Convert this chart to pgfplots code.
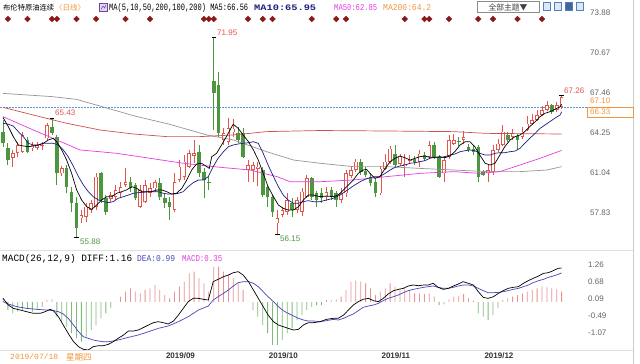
\documentclass[border=0pt]{standalone}
\usepackage{pgfplots}
\pgfplotsset{compat=1.18}
\usepackage{pgfplotstable}
\usepackage{fontspec}
\setmainfont{Liberation Sans}
\newfontfamily\cjk{Noto Sans CJK SC}
\newfontfamily\mono{Liberation Mono}
\definecolor{cred}{RGB}{226,86,78}
\definecolor{cgreen}{RGB}{76,150,64}
\definecolor{hred}{RGB}{234,146,146}
\definecolor{hgreen}{RGB}{128,186,122}
\definecolor{ma10}{RGB}{30,30,130}
\definecolor{ma50}{RGB}{230,60,230}
\definecolor{ma100}{RGB}{150,150,150}
\definecolor{ma200}{RGB}{210,80,80}
\definecolor{dashc}{RGB}{90,150,220}
\definecolor{tickc}{RGB}{100,100,100}
\definecolor{orng}{RGB}{240,150,60}
\definecolor{diam}{RGB}{140,25,25}
\definecolor{deac}{RGB}{70,70,190}
\definecolor{macdc}{RGB}{225,60,225}
\definecolor{iconb}{RGB}{80,128,192}
\definecolor{iconf}{RGB}{221,232,246}
\definecolor{purp}{RGB}{110,70,160}
\definecolor{purpf}{RGB}{225,215,245}

\pgfplotstableread{
i o h l c
2 62.22 62.90 61.55 62.62
3 62.62 63.56 62.35 63.29
4 62.75 64.36 62.62 64.09
6 63.02 63.50 62.80 63.29
7 63.05 63.55 62.85 63.30
8 63.20 63.50 62.90 63.22
9 63.82 65.03 63.69 64.89
12 61.01 61.60 60.80 61.41
16 57.40 58.07 57.00 57.67
17 57.54 58.60 57.13 58.34
18 58.07 58.90 57.80 58.61
19 58.34 61.01 58.07 60.75
22 58.98 59.50 58.70 59.27
23 59.14 60.08 58.87 59.68
24 59.41 60.34 59.00 59.94
25 60.08 61.41 59.94 60.34
28 58.34 60.08 58.20 59.68
29 58.74 60.48 58.60 60.08
30 59.41 60.21 59.14 59.81
31 59.81 60.48 59.54 60.34
35 58.07 61.01 57.93 60.34
36 60.48 62.08 60.34 61.55
37 60.75 62.48 60.48 61.95
38 61.55 62.89 61.41 62.62
39 62.40 63.69 61.82 62.62
45 63.69 64.62 63.29 64.22
46 63.55 65.43 63.29 64.62
47 64.30 65.40 63.90 64.60
50 61.28 62.08 60.34 61.68
51 61.30 61.95 60.35 61.70
52 61.35 61.95 60.00 61.55
56 57.00 58.07 56.15 57.40
57 57.67 58.34 57.54 58.07
58 57.93 59.41 57.67 58.87
60 58.07 59.14 57.80 58.87
61 57.93 59.80 57.60 59.54
62 59.14 60.88 59.00 60.61
66 59.10 59.90 58.80 59.50
69 58.90 59.80 58.60 59.40
70 59.40 61.30 59.10 61.00
71 60.80 61.50 60.60 61.30
72 61.30 62.20 61.10 61.95
77 59.40 61.60 59.30 61.40
78 61.40 62.60 61.30 61.95
79 61.95 63.20 61.80 63.00
81 61.80 62.60 61.60 62.35
82 61.60 62.60 60.75 61.75
83 62.00 62.50 61.80 62.20
85 61.95 62.90 61.50 62.60
87 62.35 63.60 62.20 63.30
90 61.00 62.40 60.30 62.10
91 62.35 64.10 62.20 63.70
92 63.40 64.20 63.30 63.70
94 63.70 64.40 63.40 63.95
99 61.00 61.80 60.35 61.30
100 61.15 63.30 60.90 62.90
101 62.90 63.80 62.70 63.40
102 63.30 64.90 63.20 64.36
104 63.95 64.60 63.70 64.20
106 63.95 64.70 63.80 64.36
107 64.50 65.60 64.40 65.00
108 65.00 65.80 64.90 65.30
109 65.30 66.10 65.20 65.70
110 65.70 66.40 65.60 66.10
111 66.10 66.80 66.00 66.50
113 66.10 66.70 65.90 66.50
114 66.33 67.26 66.20 67.10
}\upc

\pgfplotstableread{
i o h l c
0 64.36 65.29 63.15 63.42
1 63.02 63.42 61.68 62.08
5 63.69 63.96 62.62 62.75
10 64.76 65.43 64.09 64.22
11 63.96 64.09 60.08 61.01
13 61.41 61.68 59.41 59.94
14 59.54 59.94 57.93 58.61
15 58.61 59.14 55.88 56.60
20 61.01 61.15 58.61 58.87
21 59.00 59.27 57.67 57.93
26 60.34 60.75 59.54 59.81
27 60.08 60.21 58.87 59.00
32 60.21 60.61 58.87 59.14
33 59.00 59.41 58.20 58.61
34 58.74 59.14 57.27 58.34
40 62.75 63.29 60.75 61.01
41 61.15 61.41 59.00 60.48
42 60.34 60.75 59.68 60.21
43 68.40 71.95 64.50 67.50
44 68.10 69.17 63.96 64.22
48 64.22 64.76 63.42 63.69
49 64.22 64.62 62.22 62.35
53 61.28 61.55 59.14 59.27
54 59.94 60.08 58.34 59.14
55 59.14 59.27 57.54 57.93
59 58.61 59.00 57.54 58.07
63 60.61 60.75 58.87 59.14
64 59.41 59.60 58.30 58.87
65 59.40 59.80 58.60 59.00
67 59.70 59.90 58.90 59.10
68 59.40 59.60 58.30 58.90
73 61.95 62.20 60.90 61.15
74 61.20 61.50 60.70 60.90
75 60.75 61.00 60.00 60.20
76 60.30 60.60 59.10 59.40
80 62.60 63.30 61.50 61.70
84 62.20 62.40 61.70 61.95
86 62.50 62.70 62.00 62.20
88 63.30 63.50 62.20 62.35
89 62.35 62.50 60.60 60.75
93 63.60 63.90 63.20 63.50
95 63.10 63.40 62.70 62.90
96 63.00 63.30 62.50 62.75
97 63.15 63.30 60.35 60.75
98 61.15 61.30 60.80 60.90
103 64.10 64.30 63.50 63.70
105 64.00 64.20 62.90 63.70
112 66.50 66.60 65.80 65.96
}\downc

\begin{document}
\begin{tikzpicture}
\useasboundingbox (0,0) rectangle (640pt,364pt);
\fill[white] (0,0) rectangle (640pt,364pt);

% ---------------- price panel ----------------
\begin{axis}[
  at={(0pt,114pt)}, anchor=south west,
  x=4.9pt, y=12.46pt,
  xmin=-0.612, xmax=128.57, ymin=54.86, ymax=74.92,
  axis line style={draw=none}, tick style={draw=none},
  xtick=\empty,
  ytick={57.83,61.04,64.25,67.46,70.67,73.88},
  yticklabels={57.83,61.04,64.25,67.46,70.67,73.88},
  yticklabel pos=right,
  yticklabel style={anchor=west, xshift=-43pt, inner sep=0pt,
    font=\fontsize{8}{9}\selectfont, text=tickc},
  clip=false,
]
% last price dashed line
\addplot[dashc, line width=0.6pt, dash pattern=on 1.5pt off 1.5pt] coordinates {(-0.612,66.33) (128.57,66.33)};

% wicks
\addplot[draw=none, mark=none, error bars/.cd, y dir=plus, y explicit, error mark=none,
  error bar style={draw=cred, line width=0.8pt}]
  table[x=i, y=l, y error plus expr=\thisrow{h}-\thisrow{l}] {\upc};
\addplot[draw=none, mark=none, error bars/.cd, y dir=plus, y explicit, error mark=none,
  error bar style={draw=cgreen, line width=0.8pt}]
  table[x=i, y=l, y error plus expr=\thisrow{h}-\thisrow{l}] {\downc};
% bodies
\addplot[draw=none, mark=none, error bars/.cd, y dir=plus, y explicit, error mark=none,
  error bar style={draw=cred, line width=3.6pt}]
  table[x=i, y=o, y error plus expr={max(\thisrow{c}-\thisrow{o},0.06)}] {\upc};
\addplot[draw=none, mark=none, error bars/.cd, y dir=plus, y explicit, error mark=none,
  error bar style={draw=white, line width=2.0pt}]
  table[x=i, y expr=\thisrow{o}+0.065, y error plus expr={max(\thisrow{c}-\thisrow{o}-0.13,0)}] {\upc};
\addplot[draw=none, mark=none, error bars/.cd, y dir=plus, y explicit, error mark=none,
  error bar style={draw=cgreen, line width=3.6pt}]
  table[x=i, y=c, y error plus expr={max(\thisrow{o}-\thisrow{c},0.06)}] {\downc};

% MA100 (gray)
\addplot[ma100, line width=0.7pt, mark=none] coordinates {
(0,67.43) (10,67.17) (15,66.95) (20.7,66.31) (27,65.60) (34,64.95) (41.6,64.09) (47,63.69)
(53.8,62.75) (59.3,62.08) (64.7,61.82) (71.5,61.55) (78.3,61.55) (85.1,61.41) (91.9,61.28)
(98.7,61.15) (105.5,61.15) (111,61.28) (114,61.55)};
% MA200 (red)
\addplot[ma200, line width=0.7pt, mark=none] coordinates {
(0,66.31) (6.2,65.69) (13,65.03) (19.8,64.49) (26.6,64.17) (33.4,63.96) (40.2,63.96) (47,64.09)
(53.8,64.36) (64.7,64.45) (78.3,64.41) (91.9,64.36) (98.7,64.22) (114,64.17)};
% MA50 (magenta)
\addplot[ma50, line width=0.7pt, mark=none] coordinates {
(0,65.56) (6.2,64.49) (11,63.69) (15.7,62.89) (23.2,62.62) (30,62.22) (36.8,61.82) (42.9,61.55)
(50.4,61.28) (55.9,60.75) (58.6,60.34) (64.7,60.34) (71.5,60.48) (78.3,60.75) (85.1,61.01)
(91.9,61.15) (97.3,61.01) (101.4,61.15) (105.5,61.68) (109.6,62.22) (114,62.85)};
% MA10 (navy)
\addplot[ma10, line width=0.7pt, mark=none] coordinates {
(0,65.03) (1.09,64.95) (2.1,64.81) (3.13,64.36) (4.15,63.96) (5.17,63.42) (6.19,63.29) (7.21,63.29)
(8.23,63.42) (9.25,63.42) (10.27,63.42) (11.3,63.29) (12.3,62.89) (13.3,62.35) (14.4,61.55)
(15.4,60.75) (16.4,60.08) (17.4,59.54) (18.4,59.14) (19.5,58.87) (20.5,58.74) (21.5,58.66)
(22.5,58.74) (23.5,59.01) (24.6,59.14) (25.6,59.27) (26.6,59.41) (27.6,59.46) (28.6,59.49)
(29.7,59.54) (30.7,59.54) (31.7,59.54) (32.7,59.41) (33.7,59.35) (34.8,59.35) (35.8,59.41)
(36.8,59.54) (37.8,59.94) (38.8,60.26) (39.9,60.48) (40.9,60.48) (41.9,60.75) (42.9,61.55)
(43.9,62.22) (45.0,62.75) (46.0,63.15) (47.0,63.29) (48.0,63.37) (49.0,63.42) (50.1,63.47)
(51.1,63.55) (52.1,63.42) (53.1,62.62) (54.1,61.68) (55.2,60.75) (56.2,59.94) (57.2,59.27)
(58.2,58.87) (59.3,58.61) (60.3,58.61) (61.3,58.74) (62.3,58.82) (63.3,58.74) (64.7,58.74)
(66.0,58.87) (67.4,59.01) (68.8,59.27) (69.8,59.54) (70.8,59.81) (71.8,60.08) (72.9,60.34)
(73.9,60.53) (74.9,60.67) (75.9,60.75) (76.9,60.75) (78.0,61.01) (79.0,61.28) (80.0,61.49)
(81.0,61.60) (82.0,61.68) (83.1,61.82) (84.1,61.87) (85.1,61.95) (86.1,62.03) (87.1,62.22)
(88.2,62.30) (89.2,62.27) (90.2,62.35) (91.2,62.48) (92.2,62.56) (93.3,62.75) (94.3,62.83)
(95.3,62.89) (96.3,62.83) (97.3,62.62) (98.4,62.48) (99.4,62.48) (100.4,62.62) (101.4,62.67)
(102.4,62.67) (103.5,62.75) (104.5,62.80) (105.5,63.02) (106.5,63.42) (107.5,63.82) (108.6,64.22)
(109.6,64.62) (110.6,64.89) (111.6,65.16) (112.6,65.43) (113.7,65.70) (114,65.95)};
% MA5 (black)
\addplot[black, line width=0.7pt, mark=none] coordinates {
(0,65.50) (1.09,64.76) (2.1,63.96) (3.13,63.29) (4.15,63.21) (5.17,63.15) (6.19,63.21) (7.21,63.29)
(8.23,63.42) (9.25,63.69) (10.27,63.82) (10.95,63.55) (11.97,62.89) (12.99,62.08) (14.01,61.01)
(15.03,59.68) (16.05,58.87) (17.07,58.34) (18.1,58.12) (19.1,58.47) (20.1,58.87) (21.2,59.14)
(22.2,59.14) (23.2,59.41) (24.2,59.54) (25.2,59.68) (26.3,59.94) (27.3,59.81) (28.3,59.54)
(29.3,59.54) (30.3,59.54) (31.4,59.68) (32.4,59.68) (33.4,59.54) (34.4,59.35) (35.4,59.41)
(36.5,59.81) (37.5,60.48) (38.5,61.28) (39.5,61.76) (40.5,61.82) (41.6,61.55) (42.1,61.41)
(42.6,62.35) (43.6,62.62) (44.6,63.29) (45.6,63.96) (46.7,64.76) (47.0,64.95) (48.0,64.62)
(49.0,64.09) (50.1,63.55) (51.1,62.89) (52.1,62.08) (53.1,61.01) (54.1,59.94) (55.2,59.14)
(56.2,58.47) (57.2,58.20) (58.2,58.07) (59.3,58.07) (60.3,58.34) (61.3,58.87) (62.3,59.27)
(63.3,59.27) (64.7,59.14) (66.0,59.19) (67.4,59.14) (68.4,59.27) (69.5,59.68) (70.5,60.08)
(71.5,60.48) (72.5,61.01) (73.5,61.28) (74.2,61.33) (74.9,61.01) (75.9,60.61) (76.9,60.75)
(78.0,61.41) (79.0,61.95) (80.0,62.22) (81.0,62.40) (82.0,62.27) (83.1,62.08) (84.1,62.22)
(85.1,62.35) (86.1,62.40) (87.1,62.30) (88.2,62.30) (89.2,62.35) (90.2,62.27) (91.2,62.40)
(92.2,62.75) (93.3,63.29) (94.3,63.55) (95.3,63.55) (96.3,63.15) (97.3,62.48) (98.4,61.82)
(99.4,61.68) (100.4,61.82) (101.4,62.48) (102.4,63.15) (103.5,63.69) (104.5,63.96) (105.5,64.09)
(106.5,64.36) (107.5,64.76) (108.6,65.16) (109.6,65.56) (110.6,65.83) (111.6,65.96) (112.6,66.15)
(113.7,66.36) (114,66.56)};

% event diamonds
\addplot[only marks, mark=square*, mark size=2.0pt, color=diam, mark options={rotate=45}] coordinates {
(1,73.40) (5,73.40) (10,73.40) (11,73.40) (15,73.40) (19,73.40) (25,73.40) (30,73.40)
(41,73.40) (42,73.40) (43,73.40) (50,73.40) (53,73.40) (55,73.40) (63,73.40) (68,73.40)
(70,73.40) (82,73.40) (86,73.40) (87,73.40) (91,73.40) (97,73.40) (100,73.40) (105,73.40) (110,73.40)};

% extreme marks
\addplot[only marks, mark=-, mark size=2.2pt, black, line width=0.6pt] coordinates {
(43,71.95) (10,65.43) (15,55.88) (56,56.15) (114,67.26)};
\node[anchor=west, inner sep=0pt, xshift=3.3pt, yshift=4.3pt, text=cred, font=\fontsize{8}{9}\selectfont] at (axis cs:43,71.95) {71.95};
\node[anchor=west, inner sep=0pt, xshift=3pt, yshift=5.3pt, text=cred, font=\fontsize{8}{9}\selectfont] at (axis cs:10,65.43) {65.43};
\node[anchor=west, inner sep=0pt, xshift=3.5pt, yshift=-4.7pt, text=cgreen, font=\fontsize{8}{9}\selectfont] at (axis cs:15,55.88) {55.88};
\node[anchor=west, inner sep=0pt, xshift=2.6pt, yshift=-5.1pt, text=cgreen, font=\fontsize{8}{9}\selectfont] at (axis cs:56,56.15) {56.15};
\node[anchor=west, inner sep=0pt, xshift=2.4pt, yshift=4.5pt, text=cred, font=\fontsize{8}{9}\selectfont] at (axis cs:114,67.26) {67.26};
\end{axis}

% ---------------- MACD panel ----------------
\begin{axis}[
  at={(0pt,14pt)}, anchor=south west,
  x=4.9pt, y=29.1pt,
  xmin=-0.612, xmax=128.57, ymin=-1.656, ymax=1.711,
  axis line style={draw=none}, tick style={draw=none},
  xtick={32,53,76,97}, xticklabels={2019/09,2019/10,2019/11,2019/12},
  xticklabel style={anchor=north west, inner sep=0pt, xshift=6pt, yshift=-3pt,
    font=\bfseries\fontsize{8}{9}\selectfont, text=black!80},
  ytick={-1.07,-0.49,0.09,0.68,1.26}, yticklabels={-1.07,-0.49,0.09,0.68,1.26},
  yticklabel pos=right,
  yticklabel style={anchor=west, xshift=-45pt, inner sep=0pt,
    font=\fontsize{8}{9}\selectfont, text=tickc},
  clip=false,
]
\addplot[ybar, bar width=0.8pt, bar shift=0pt, fill=hred, draw=none] coordinates {
(0,0.12) (9,0.06) (10,0.08) (23,0.01) (24,0.18) (25,0.35) (26,0.46) (27,0.35) (28,0.29) (29,0.41)
(30,0.46) (31,0.58) (32,0.41) (33,0.23) (34,0.12) (35,0.35) (36,0.52) (37,0.69) (38,0.98) (39,1.04)
(40,0.81) (41,0.63) (42,0.35) (43,1.21) (44,1.21) (45,1.04) (46,0.92) (47,0.81) (48,0.63) (49,0.41)
(50,0.01) (66,0.06) (67,0.06) (68,0.08) (69,0.18) (70,0.40) (71,0.69) (72,0.73) (73,0.69) (74,0.63)
(75,0.46) (76,0.23) (77,0.35) (78,0.46) (79,0.63) (80,0.52) (81,0.46) (82,0.46) (83,0.41) (84,0.29)
(85,0.29) (86,0.26) (87,0.29) (88,0.18) (91,0.08) (92,0.18) (93,0.20) (94,0.26) (95,0.12) (96,0.04)
(102,0.06) (103,0.12) (104,0.18) (105,0.23) (106,0.29) (107,0.35) (108,0.40) (109,0.46) (110,0.52)
(111,0.50) (112,0.46) (113,0.43) (114,0.35)};
\addplot[ybar, bar width=0.8pt, bar shift=0pt, fill=hgreen, draw=none] coordinates {
(1,-0.28) (2,-0.40) (3,-0.34) (4,-0.28) (5,-0.22) (6,-0.34) (7,-0.28) (8,-0.17)
(11,-0.51) (12,-0.68) (13,-0.85) (14,-1.08) (15,-1.25) (16,-1.37) (17,-1.20) (18,-0.97) (19,-0.80)
(20,-0.57) (21,-0.40) (22,-0.22)
(51,-0.28) (52,-0.51) (53,-0.80) (54,-1.08) (55,-1.48) (56,-1.48) (57,-1.31) (58,-1.08) (59,-0.91)
(60,-0.63) (61,-0.45) (62,-0.28) (63,-0.17) (64,-0.11) (65,-0.11)
(89,-0.11) (90,-0.09) (97,-0.40) (98,-0.51) (99,-0.63) (100,-0.45) (101,-0.22)};
% DEA
\addplot[deac, line width=0.7pt, mark=none] coordinates {
(0,0.005) (1.09,-0.076) (2.8,-0.167) (4.8,-0.225) (6.9,-0.259) (8.9,-0.282) (10.3,-0.305) (11.3,-0.339)
(12.3,-0.419) (13.3,-0.568) (14.4,-0.797) (15.4,-1.026) (16.4,-1.198) (17.4,-1.256) (18.4,-1.313)
(19.5,-1.347) (20.5,-1.370) (21.5,-1.370) (22.5,-1.347) (23.5,-1.313) (25.6,-1.221) (27.6,-1.141)
(29.7,-1.026) (31.7,-0.912) (33.7,-0.832) (35.8,-0.683) (37.8,-0.511) (39.9,-0.282) (41.9,-0.144)
(42.9,0.062) (43.9,0.176) (45.0,0.291) (46.0,0.406) (47.0,0.543) (48.0,0.658) (49.0,0.692)
(50.1,0.692) (51.1,0.635) (52.1,0.520) (53.1,0.348) (54.1,0.176) (55.2,0.005) (56.2,-0.167)
(57.2,-0.305) (58.2,-0.396) (59.3,-0.488) (60.3,-0.568) (61.3,-0.625) (62.3,-0.660) (63.3,-0.660)
(64.7,-0.683) (66.0,-0.649) (67.4,-0.603) (68.4,-0.625) (69.5,-0.568) (70.5,-0.488) (71.5,-0.419)
(72.5,-0.305) (73.5,-0.190) (74.6,-0.144) (75.6,-0.110) (76.6,-0.053) (77.6,0.039) (78.6,0.119)
(79.7,0.176) (80.7,0.234) (81.7,0.314) (82.7,0.383) (83.7,0.428) (84.8,0.463) (85.8,0.497)
(86.8,0.520) (87.8,0.543) (88.8,0.497) (89.9,0.463) (90.9,0.463) (91.9,0.497) (92.9,0.543)
(93.9,0.577) (95.0,0.577) (96.0,0.543) (97.0,0.463) (98.0,0.383) (99.0,0.314) (100.1,0.314)
(101.1,0.325) (102.1,0.348) (103.1,0.383) (104.1,0.428) (105.2,0.463) (106.2,0.520) (107.2,0.577)
(108.2,0.658) (109.3,0.726) (110.3,0.772) (111.3,0.841) (112.3,0.887) (113.3,0.944) (114,0.99)};
% DIFF
\addplot[black, line width=0.7pt, mark=none] coordinates {
(0,0.119) (1.09,-0.110) (2.1,-0.225) (3.5,-0.282) (4.8,-0.339) (6.2,-0.396) (7.6,-0.396) (8.6,-0.339)
(9.6,-0.259) (10.3,-0.305) (11.3,-0.511) (12.3,-0.797) (13.3,-1.084) (14.4,-1.370) (15.4,-1.542)
(16.4,-1.633) (17.4,-1.656) (18.4,-1.542) (19.5,-1.508) (20.5,-1.508) (21.5,-1.462) (22.5,-1.370)
(23.5,-1.256) (24.6,-1.141) (25.6,-1.003) (26.6,-1.003) (27.6,-0.969) (28.6,-0.889) (29.7,-0.797)
(30.7,-0.717) (31.7,-0.683) (32.7,-0.717) (33.7,-0.763) (34.8,-0.660) (35.8,-0.454) (36.8,-0.225)
(37.8,0.005) (38.8,0.119) (39.9,0.119) (40.9,0.085) (41.9,0.062) (42.9,0.692) (43.9,0.772)
(45.0,0.864) (46.0,0.921) (47.0,1.001) (48.0,1.035) (49.0,0.921) (50.1,0.692) (51.1,0.406)
(52.1,0.119) (53.1,-0.167) (54.1,-0.454) (55.2,-0.683) (56.2,-0.797) (57.2,-0.854) (58.2,-0.912)
(59.3,-0.969) (60.3,-0.946) (61.3,-0.797) (62.3,-0.717) (63.3,-0.717) (64.7,-0.683) (66.0,-0.603)
(67.4,-0.568) (68.4,-0.568) (69.5,-0.454) (70.5,-0.282) (71.5,-0.110) (72.5,0.005) (73.5,0.085)
(74.6,0.119) (75.6,0.039) (76.6,0.005) (77.6,0.119) (78.6,0.268) (79.7,0.383) (80.7,0.428)
(81.7,0.463) (82.7,0.543) (83.7,0.577) (84.8,0.554) (85.8,0.577) (86.8,0.577) (87.8,0.635)
(88.8,0.497) (89.9,0.428) (90.9,0.463) (91.9,0.543) (92.9,0.612) (93.9,0.692) (95.0,0.635)
(96.0,0.577) (97.0,0.348) (98.0,0.153) (99.0,0.119) (100.1,0.176) (101.1,0.291) (102.1,0.383)
(103.1,0.463) (104.1,0.497) (105.2,0.520) (106.2,0.635) (107.2,0.726) (108.2,0.806) (109.3,0.887)
(110.3,0.978) (111.3,1.001) (112.3,1.070) (113.3,1.150) (114,1.16)};
\end{axis}

% ---------------- decorations in pixel coordinates ----------------
\begin{scope}[x=1pt, y=-1pt, shift={(0pt,364pt)}]
\draw[black!20, line width=0.6pt] (633,0) -- (633,364);
\draw[black!12, line width=0.6pt] (0,250) -- (633,250);
\draw[black!12, line width=0.6pt] (0,350.5) -- (633,350.5);
% header
\node[anchor=west, inner sep=0pt] at (3,8) {\cjk\fontsize{7.3}{8}\selectfont 布伦特原油连续};
\node[anchor=west, inner sep=0pt, text=orng] at (55,8) {\cjk\fontsize{7.5}{8}\selectfont 〈日线〉};
\draw[draw=purp, fill=purpf, line width=0.6pt] (99.5,3.5) rectangle (107.5,11.5);
\draw[purp, line width=0.5pt] (101,9.5) -- (103,6) -- (104.5,8) -- (106,5);
\node[anchor=west, inner sep=0pt] at (109,8) {\resizebox{139pt}{7pt}{\mono MA(5,10,50,200,100,200) MA5:66.56}};
\node[anchor=west, inner sep=0pt, text=ma10] at (254,8) {\resizebox{62pt}{5.6pt}{\mono\bfseries MA10:65.95}};
\node[anchor=west, inner sep=0pt, text=ma50] at (334,8) {\resizebox{43pt}{6pt}{\mono MA50:62.85}};
\node[anchor=west, inner sep=0pt, text=orng] at (383,8) {\resizebox{48pt}{6pt}{\mono MA200:64.2}};
% theme box and icons
\draw[black!45, line width=0.5pt] (477,1.5) rectangle (539,12.5);
\node[inner sep=0pt, text=black!75] at (508,7) {\cjk\fontsize{7.8}{8}\selectfont 全部主题▼};
\draw[iconb, fill=iconf, line width=0.5pt] (543,2.5) rectangle (550.5,10);
\draw[iconb, fill=iconf, line width=0.5pt] (554,2.5) rectangle (561.5,10);
\draw[iconb, fill=iconb!80!black, line width=0.5pt] (565,2.5) rectangle (572.5,10);
\draw[iconb, fill=iconf, line width=0.5pt] (576,2.5) rectangle (583.5,10);
% last-price boxes
\node[anchor=west, inner sep=0pt, text=orng] at (590,101) {\fontsize{8}{9}\selectfont 67.10};
\draw[orng, line width=0.6pt] (587,107) rectangle (633,117);
\node[anchor=west, inner sep=0pt, text=orng] at (590,112) {\fontsize{8}{9}\selectfont 66.33};
% MACD header
\node[anchor=west, inner sep=0pt] at (2,259) {\resizebox{130pt}{7pt}{\mono MACD(26,12,9) DIFF:1.16}};
\node[anchor=west, inner sep=0pt, text=deac] at (137,259) {\resizebox{38pt}{6pt}{\mono DEA:0.99}};
\node[anchor=west, inner sep=0pt, text=macdc] at (182,259) {\resizebox{40pt}{6pt}{\mono MACD:0.35}};
% cursor date
\node[anchor=west, inner sep=0pt, text=orng] at (10,357) {\mono\fontsize{8}{9}\selectfont 2019/07/18};
\node[anchor=west, inner sep=0pt, text=orng] at (66,357) {\cjk\fontsize{8.5}{9}\selectfont 星期四};
\end{scope}
\end{tikzpicture}
\end{document}
